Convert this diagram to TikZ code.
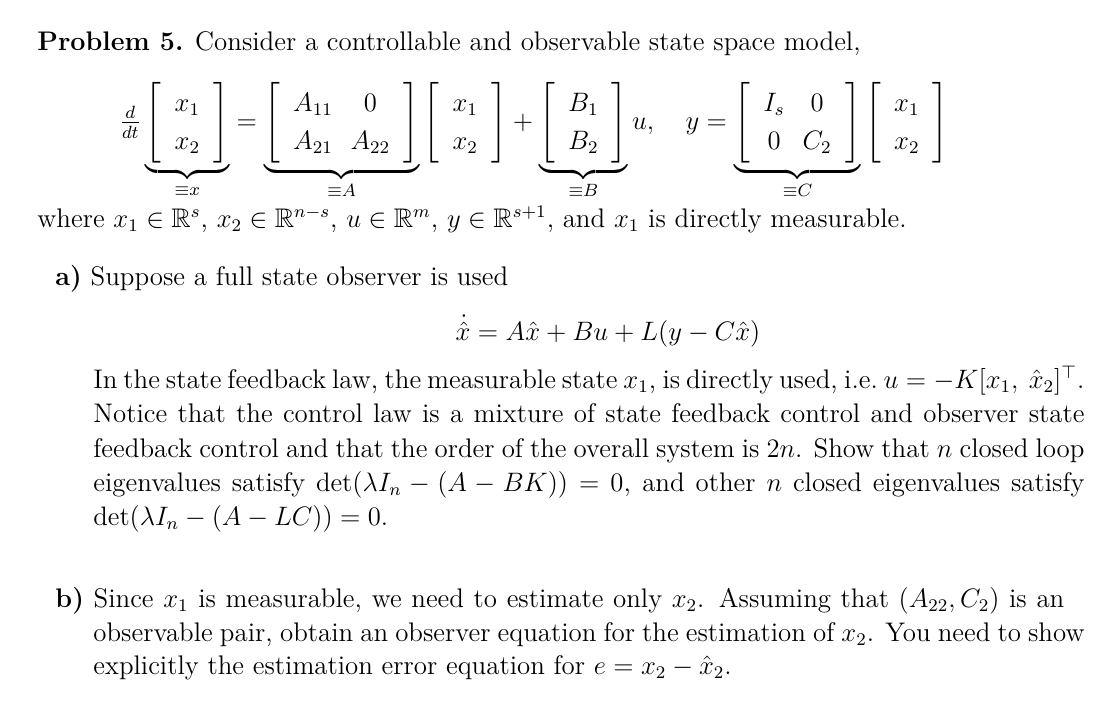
\documentclass[tikz,border=0pt]{standalone}
\usepackage{amsmath,amssymb}
\newcommand{\jl}[4]{\node[anchor=base west,inner sep=0pt] at (#1,#2) {\hbox to #3{#4}};}
\newcommand{\tl}[3]{\node[anchor=base west,inner sep=0pt] at (#1,#2) {#3};}
\newcommand{\bm}[1]{\left[\,\renewcommand{\arraystretch}{1.15}\setlength{\arraycolsep}{4pt}\begin{array}{cc}#1\end{array}\,\right]}
\begin{document}
\begin{tikzpicture}[x=0.45pt,y=-0.45pt,every node/.style={font=\fontsize{12.1}{15}\selectfont}]
\useasboundingbox (0,0) rectangle (1106,708);
\tl{37}{50}{\textbf{Problem 5.} Consider a controllable and observable state space model,}
\node[anchor=north,inner sep=0pt] (eq) at (534,82) {$\displaystyle
\tfrac{d}{dt}\underbrace{\bm{x_1\\ x_2}}_{\equiv x}
=\underbrace{\bm{A_{11}&0\\ A_{21}&A_{22}}}_{\equiv A}
\bm{x_1\\ x_2}
+\underbrace{\bm{B_1\\ B_2}}_{\equiv B}u,\quad
y=\underbrace{\bm{I_s&0\\ 0&C_2}}_{\equiv C}
\bm{x_1\\ x_2}$};
\tl{37}{227}{where $x_1\in\mathbb{R}^s$, $x_2\in\mathbb{R}^{n-s}$, $u\in\mathbb{R}^m$, $y\in\mathbb{R}^{s+1}$, and $x_1$ is directly measurable.}
\tl{55}{285}{\textbf{a)} Suppose a full state observer is used}
\node[anchor=base,inner sep=0pt] (obs) at (608,340) {$\dot{\hat{x}}=A\hat{x}+Bu+L(y-C\hat{x})$};
\jl{93}{388}{446pt}{In the state feedback law, the measurable state $x_1$, is directly used, i.e.\ $u=-K[x_1,\ \hat{x}_2]^{\top}$.}
\jl{93}{422}{446pt}{Notice that the control law is a mixture of state feedback control and observer state}
\jl{93}{457}{446pt}{feedback control and that the order of the overall system is $2n$. Show that $n$ closed loop}
\jl{93}{491}{446pt}{eigenvalues satisfy $\det(\lambda I_n-(A-BK))=0$, and other $n$ closed eigenvalues satisfy}
\tl{93}{525}{$\det(\lambda I_n-(A-LC))=0$.}
\jl{55}{607}{454pt}{\textbf{b)} Since $x_1$ is measurable, we need to estimate only $x_2$. Assuming that $(A_{22},C_2)$ is an}
\jl{93}{641}{446pt}{observable pair, obtain an observer equation for the estimation of $x_2$. You need to show}
\tl{93}{674}{explicitly the estimation error equation for $e=x_2-\hat{x}_2$.}
\end{tikzpicture}
\end{document}
